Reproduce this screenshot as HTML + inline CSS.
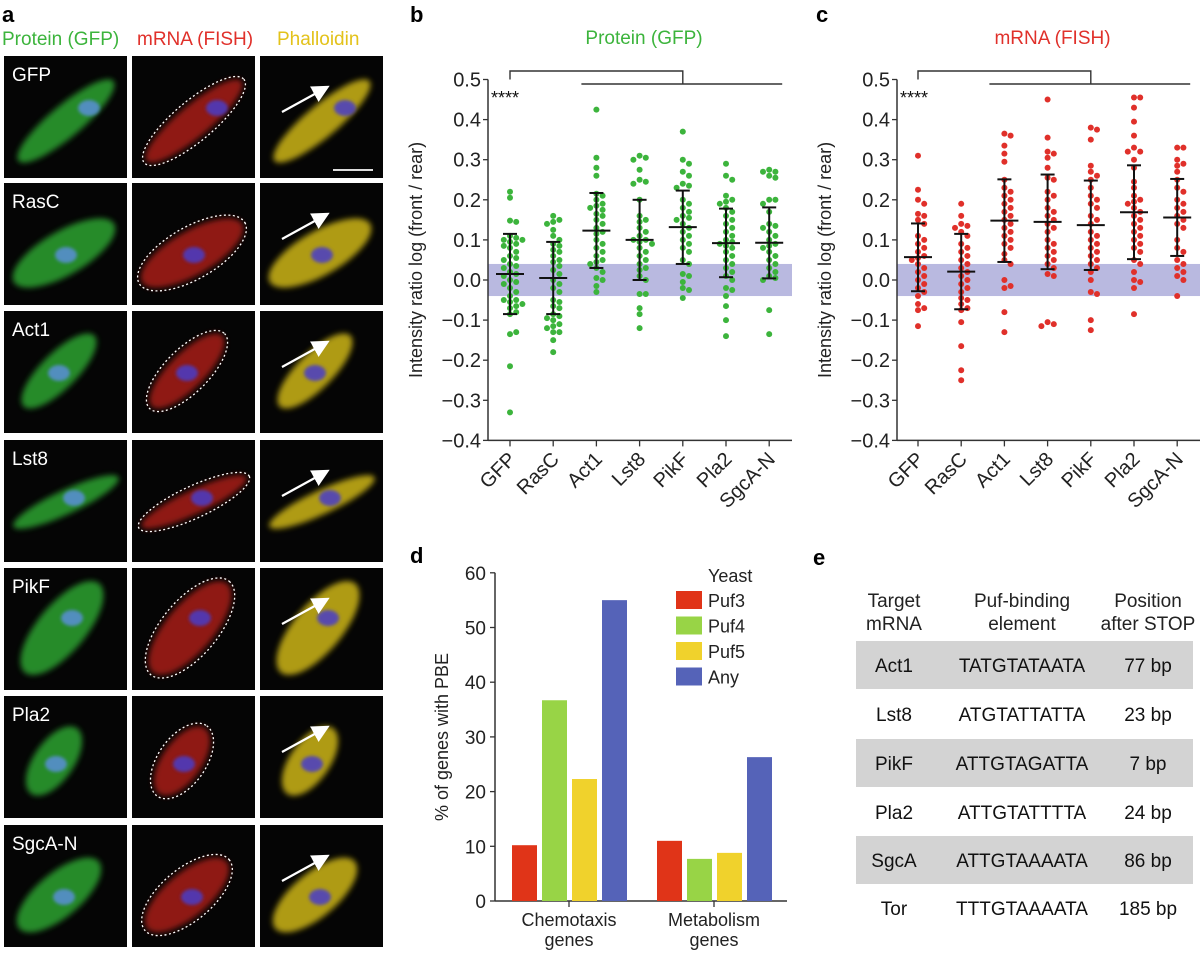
<!DOCTYPE html>
<html><head><meta charset="utf-8">
<style>
body{margin:0;background:#fff;}
svg text{font-family:"Liberation Sans",Arial,sans-serif;}
</style></head>
<body>
<svg id="fig" width="1200" height="953" viewBox="0 0 1200 953" xmlns="http://www.w3.org/2000/svg">
<defs>
<filter id="blur2" x="-30%" y="-30%" width="160%" height="160%"><feGaussianBlur stdDeviation="3"/></filter>
<filter id="blur1" x="-30%" y="-30%" width="160%" height="160%"><feGaussianBlur stdDeviation="1.5"/></filter>
<marker id="ah" markerWidth="8" markerHeight="8" refX="4" refY="4" orient="auto"><path d="M0,0 L8,4 L0,8 Z" fill="#fff"/></marker>
</defs>
<g id="panelA">
<text x="2" y="22" font-size="22" font-weight="bold">a</text>
<text x="2" y="45" font-size="19" fill="#3cb43c">Protein (GFP)</text>
<text x="137" y="45" font-size="19" fill="#e0302a">mRNA (FISH)</text>
<text x="277" y="45" font-size="19" fill="#e3c21a">Phalloidin</text>
</g>
<g id="panelB"></g>
<g id="panelC"></g>
<g id="panelD"></g>
<g id="panelE"></g>
</svg>
<script>
const NS="http://www.w3.org/2000/svg";
function mk(parent,tag,attrs,text){const e=document.createElementNS(NS,tag);for(const k in attrs)e.setAttribute(k,attrs[k]);if(text!==undefined)e.textContent=text;parent.appendChild(e);return e;}

// ---------- Panel a (micrographs) ----------
const rowNames=["GFP","RasC","Act1","Lst8","PikF","Pla2","SgcA-N"];
const rowY=[56,183,311,440,568,696,825];
const colX=[4,132,260];
const cellShapes=[[62,65,62,16,-40,85,52],[60,70,58,22,-30,62,72],[55,60,50,18,-45,55,62],[62,62,58,12,-25,70,58],[58,60,58,24,-50,68,50],[50,65,40,20,-55,52,68],[55,70,52,22,-40,60,72]];
const chCol=["#2b9a2e","#9e1d18","#c2ac16"];
const A=document.getElementById('panelA');
rowNames.forEach((nm,r)=>{
  colX.forEach((cx,c)=>{
    const g=mk(A,'g',{transform:`translate(${cx},${rowY[r]})`});
    
    
    mk(g,'rect',{x:0,y:0,width:123,height:122,fill:'#050505'});
    const s=cellShapes[r];
    mk(g,'ellipse',{cx:s[0],cy:s[1],rx:s[2],ry:s[3],transform:`rotate(${s[4]} ${s[0]} ${s[1]})`,fill:chCol[c],filter:'url(#blur2)',opacity:0.9});
    mk(g,'ellipse',{cx:s[5],cy:s[6],rx:11,ry:8,fill:c===0?'#5a8fd8':'#4a3cc8',filter:'url(#blur1)',opacity:0.85});
    if(c===1) mk(g,'ellipse',{cx:s[0],cy:s[1],rx:s[2]+3,ry:s[3]+4,transform:`rotate(${s[4]} ${s[0]} ${s[1]})`,fill:'none',stroke:'#fff','stroke-width':1.3,'stroke-dasharray':'2 2.5'});
    if(c===2){mk(g,'line',{x1:22,y1:56,x2:62,y2:34,stroke:'#fff','stroke-width':2.2,'marker-end':'url(#ah)'});
      if(r===0) mk(g,'line',{x1:73,y1:114,x2:113,y2:114,stroke:'#ddd','stroke-width':2});}
    if(c===0){const t=mk(g,'text',{x:8,y:25,'font-size':19,fill:'#fff'},nm);
      
      }
  });
});

// ---------- Panels b & c (dot plots) ----------
const categories=["GFP","RasC","Act1","Lst8","PikF","Pla2","SgcA-N"];
const yTicks=[0.5,0.4,0.3,0.2,0.1,0.0,-0.1,-0.2,-0.3,-0.4];
const yTickLabels=["0.5","0.4","0.3","0.2","0.1","0.0","\u22120.1","\u22120.2","\u22120.3","\u22120.4"];
const protMeans=[0.015,0.005,0.123,0.1,0.132,0.092,0.093];
const protLow=[-0.085,-0.085,0.03,0.0,0.04,0.007,0.004];
const protHigh=[0.115,0.095,0.217,0.2,0.223,0.178,0.181];
const protGFP=[0.22,0.205,0.148,0.145,0.11,0.105,0.1,0.1,0.095,0.09,0.085,0.08,0.07,0.06,0.055,0.05,0.04,0.035,0.03,0.02,0.015,0.01,0.0,-0.005,-0.01,-0.02,-0.03,-0.04,-0.05,-0.05,-0.055,-0.06,-0.065,-0.07,-0.08,-0.085,-0.135,-0.13,-0.215,-0.33];
const protRasC=[0.16,0.15,0.145,0.14,0.125,0.11,0.1,0.09,0.085,0.075,0.07,0.06,0.05,0.045,0.035,0.025,0.015,0.0,-0.01,-0.02,-0.03,-0.05,-0.055,-0.065,-0.07,-0.085,-0.09,-0.095,-0.1,-0.11,-0.115,-0.12,-0.13,-0.13,-0.15,-0.18];
const protAct1=[0.425,0.305,0.28,0.26,0.215,0.21,0.2,0.19,0.185,0.18,0.175,0.165,0.16,0.15,0.14,0.13,0.12,0.115,0.1,0.09,0.08,0.07,0.06,0.05,0.045,0.04,0.03,0.02,0.005,0.0,-0.015,-0.03];
const protLst8=[0.31,0.305,0.3,0.275,0.25,0.245,0.24,0.2,0.16,0.15,0.145,0.13,0.12,0.11,0.1,0.1,0.095,0.09,0.08,0.07,0.06,0.05,0.04,0.03,0.025,0.01,0.0,-0.035,-0.035,-0.07,-0.085,-0.12];
const protPikF=[0.37,0.3,0.29,0.27,0.26,0.24,0.235,0.23,0.2,0.19,0.18,0.17,0.16,0.155,0.15,0.14,0.13,0.12,0.11,0.1,0.09,0.08,0.07,0.05,0.04,0.015,0.01,-0.005,-0.02,-0.025,-0.045];
const protPla2=[0.29,0.26,0.25,0.21,0.2,0.195,0.19,0.18,0.17,0.16,0.15,0.14,0.13,0.12,0.11,0.1,0.095,0.09,0.085,0.08,0.07,0.06,0.05,0.04,0.03,0.02,0.01,0.0,-0.02,-0.025,-0.04,-0.065,-0.1,-0.14];
const protSgcA=[0.275,0.27,0.27,0.26,0.255,0.2,0.2,0.19,0.17,0.14,0.135,0.13,0.12,0.11,0.1,0.09,0.085,0.08,0.07,0.06,0.05,0.04,0.03,0.02,0.01,0.005,0.0,-0.075,-0.135];
const rnaMeans=[0.057,0.021,0.148,0.145,0.137,0.169,0.156];
const rnaLow=[-0.028,-0.073,0.045,0.027,0.025,0.052,0.06];
const rnaHigh=[0.141,0.115,0.251,0.263,0.248,0.286,0.252];
const rnaGFP=[0.31,0.225,0.2,0.19,0.165,0.16,0.15,0.14,0.11,0.1,0.09,0.08,0.07,0.06,0.055,0.05,0.04,0.03,0.02,0.01,0.0,-0.01,-0.02,-0.03,-0.04,-0.06,-0.07,-0.075,-0.115];
const rnaRasC=[0.19,0.16,0.14,0.135,0.13,0.12,0.11,0.09,0.08,0.07,0.06,0.05,0.04,0.03,0.02,0.01,0.0,-0.01,-0.02,-0.03,-0.045,-0.05,-0.06,-0.07,-0.075,-0.105,-0.165,-0.225,-0.25];
const rnaAct1=[0.365,0.36,0.335,0.315,0.295,0.25,0.23,0.22,0.21,0.2,0.19,0.18,0.17,0.16,0.15,0.14,0.13,0.12,0.11,0.1,0.09,0.08,0.065,0.05,0.04,0.0,-0.02,-0.015,-0.08,-0.13];
const rnaLst8=[0.45,0.355,0.32,0.315,0.305,0.28,0.255,0.25,0.22,0.21,0.2,0.18,0.17,0.16,0.15,0.14,0.13,0.12,0.1,0.09,0.08,0.07,0.06,0.05,0.04,0.03,0.015,0.01,-0.105,-0.11,-0.115];
const rnaPikF=[0.38,0.375,0.35,0.285,0.27,0.26,0.25,0.23,0.21,0.2,0.19,0.18,0.16,0.15,0.14,0.12,0.11,0.1,0.09,0.08,0.07,0.06,0.05,0.04,0.03,0.02,0.0,-0.03,-0.035,-0.1,-0.125];
const rnaPla2=[0.455,0.455,0.43,0.395,0.36,0.33,0.32,0.32,0.3,0.28,0.245,0.23,0.21,0.2,0.195,0.19,0.18,0.17,0.16,0.15,0.14,0.13,0.12,0.11,0.1,0.09,0.08,0.07,0.05,0.04,0.02,0.0,-0.005,-0.02,-0.085];
const rnaSgcA=[0.33,0.33,0.3,0.29,0.285,0.27,0.25,0.23,0.22,0.2,0.19,0.18,0.17,0.16,0.15,0.14,0.13,0.1,0.08,0.07,0.05,0.04,0.03,0.02,0.01,0.0,-0.04];

function dotPlot(G,prefix,axisX,xEnd,firstCat,title,color,series,means,lows,highs){
  const yS=v=>280-(v*401);
  const xS=i=>firstCat+i*43.2;
  const t=mk(G,'text',{x:(axisX+xEnd)/2+4,y:44,'font-size':19,fill:color,'text-anchor':'middle'},title);
  
  
  const band=mk(G,'rect',{x:axisX,y:yS(0.04),width:xEnd-axisX,height:yS(-0.04)-yS(0.04),fill:'#b9b9e0'});
  
  
  mk(G,'line',{x1:axisX,y1:yS(0.5),x2:axisX,y2:yS(-0.4),stroke:'#333','stroke-width':1.5});
  mk(G,'line',{x1:axisX,y1:yS(-0.4),x2:xEnd,y2:yS(-0.4),stroke:'#333','stroke-width':1.5});
  yTicks.forEach((v,i)=>{
    mk(G,'line',{x1:axisX-5,y1:yS(v),x2:axisX,y2:yS(v),stroke:'#333','stroke-width':1.3});
    const tl=mk(G,'text',{x:axisX-7,y:yS(v)+7,'font-size':20,'text-anchor':'end',fill:'#222'},yTickLabels[i]);
    
    
  });
  const yt=mk(G,'text',{x:0,y:0,'font-size':18,'text-anchor':'middle',fill:'#222',transform:`translate(${axisX-66},${yS(0.05)}) rotate(-90)`},'Intensity ratio log (front / rear)');
  
  
  categories.forEach((c,i)=>{
    const x=xS(i);
    mk(G,'line',{x1:x,y1:yS(-0.4),x2:x,y2:yS(-0.4)+6,stroke:'#333','stroke-width':1.3});
    const xl=mk(G,'text',{x:0,y:0,'font-size':20,'text-anchor':'end',fill:'#222',transform:`translate(${x+7},${yS(-0.4)+20}) rotate(-45)`},c);
    
    
    // beeswarm: place each point at the smallest offset without overlap
    const placed=[];
    series[i].forEach(v=>{
      const py=yS(v);let off=0;
      for(let k=0;k<30;k++){
        const cand=(k===0?0:(k%2?1:-1)*Math.ceil(k/2)*6.2);
        if(!placed.some(p=>Math.hypot(p[0]-cand,p[1]-py)<6)){off=cand;break;}
      }
      placed.push([off,py]);
      const d=mk(G,'circle',{cx:x+off,cy:py,r:3,fill:color});
      
      
    });
  });
  categories.forEach((c,i)=>{
    const x=xS(i);
    const eb=mk(G,'g',{stroke:'#111','stroke-width':2});
    
    
    mk(eb,'line',{x1:x,y1:yS(lows[i]),x2:x,y2:yS(highs[i])});
    mk(eb,'line',{x1:x-7,y1:yS(lows[i]),x2:x+7,y2:yS(lows[i])});
    mk(eb,'line',{x1:x-7,y1:yS(highs[i]),x2:x+7,y2:yS(highs[i])});
    mk(eb,'line',{x1:x-14,y1:yS(means[i]),x2:x+14,y2:yS(means[i])});
  });
  const br=mk(G,'g',{stroke:'#333','stroke-width':1.4,fill:'none'});
  
  
  mk(br,'polyline',{points:`${xS(0)},${yS(0.5)} ${xS(0)},71 ${xS(4)},71 ${xS(4)},84`});
  mk(br,'line',{x1:xS(2)-15,y1:84,x2:xS(6)+13,y2:84});
  const st=mk(G,'text',{x:axisX+3,y:104,'font-size':18,fill:'#111'},'****');
  
  
}
const B=document.getElementById('panelB');
mk(B,'text',{x:410,y:22,'font-size':22,'font-weight':'bold'},'b');
dotPlot(B,'protein',488,792,510,'Protein (GFP)','#3cb43c',[protGFP,protRasC,protAct1,protLst8,protPikF,protPla2,protSgcA],protMeans,protLow,protHigh);
const C=document.getElementById('panelC');
mk(C,'text',{x:816,y:22,'font-size':22,'font-weight':'bold'},'c');
dotPlot(C,'mrna',897,1200,918,'mRNA (FISH)','#e0302a',[rnaGFP,rnaRasC,rnaAct1,rnaLst8,rnaPikF,rnaPla2,rnaSgcA],rnaMeans,rnaLow,rnaHigh);

// ---------- Panel d (bar chart) ----------
const groups=["Chemotaxis","Metabolism"];
const seriesNames=["Puf3","Puf4","Puf5","Any"];
const seriesColors=["#e03418","#98d446","#f0d22c","#5563b8"];
const puf3Vals=[10.2,11.0];
const puf4Vals=[36.7,7.7];
const puf5Vals=[22.3,8.8];
const anyVals=[55.0,26.3];
const dTicks=[0,10,20,30,40,50,60];
const D=document.getElementById('panelD');
mk(D,'text',{x:410,y:563,'font-size':22,'font-weight':'bold'},'d');
const dY=v=>901-v*5.47;
const dX0=[512,657];
mk(D,'line',{x1:495,y1:dY(60),x2:495,y2:dY(0),stroke:'#333','stroke-width':1.5});
mk(D,'line',{x1:495,y1:dY(0),x2:787,y2:dY(0),stroke:'#333','stroke-width':1.5});
dTicks.forEach(v=>{
  mk(D,'line',{x1:490,y1:dY(v),x2:495,y2:dY(v),stroke:'#333','stroke-width':1.3});
  const t=mk(D,'text',{x:486,y:dY(v)+7,'font-size':19,'text-anchor':'end',fill:'#222'},String(v));
  
  
});
const dyt=mk(D,'text',{x:0,y:0,'font-size':18,'text-anchor':'middle',fill:'#222',transform:'translate(448,737) rotate(-90)'},'% of genes with PBE');


[puf3Vals,puf4Vals,puf5Vals,anyVals].forEach((vals,s)=>{
  vals.forEach((v,g)=>{
    const r=mk(D,'rect',{x:dX0[g]+s*30,y:dY(v),width:25,height:dY(0)-dY(v),fill:seriesColors[s]});
    
    
  });
});
groups.forEach((g,i)=>{
  const cx=dX0[i]+57;
  mk(D,'line',{x1:cx,y1:dY(0),x2:cx,y2:dY(0)+6,stroke:'#333','stroke-width':1.3});
  const t=mk(D,'text',{x:cx,y:926,'font-size':18,'text-anchor':'middle',fill:'#222'},g);
  
  
  mk(D,'text',{x:cx,y:946,'font-size':18,'text-anchor':'middle',fill:'#222'},'genes');
});
const lg=mk(D,'g',{});


mk(lg,'text',{x:708,y:582,'font-size':18,fill:'#222'},'Yeast');
seriesNames.forEach((n,i)=>{
  const e=mk(lg,'g',{});
  
  
  mk(e,'rect',{x:676,y:591+i*25.5,width:26,height:18,fill:seriesColors[i]});
  mk(e,'text',{x:708,y:607+i*25.5,'font-size':18,fill:'#222'},n);
});

// ---------- Panel e (table) ----------
const tgt=["Act1","Lst8","PikF","Pla2","SgcA","Tor"];
const pbe=["TATGTATAATA","ATGTATTATTA","ATTGTAGATTA","ATTGTATTTTA","ATTGTAAAATA","TTTGTAAAATA"];
const pos=["77 bp","23 bp","7 bp","24 bp","86 bp","185 bp"];
const E=document.getElementById('panelE');
mk(E,'text',{x:813,y:565,'font-size':22,'font-weight':'bold'},'e');
const cols=[894,1022,1148];
[["Target","mRNA"],["Puf-binding","element"],["Position","after STOP"]].forEach((h,i)=>{
  const t=mk(E,'text',{x:cols[i],y:607,'font-size':19,'text-anchor':'middle',fill:'#222'},h[0]);
  
  
  mk(E,'text',{x:cols[i],y:630,'font-size':19,'text-anchor':'middle',fill:'#222'},h[1]);
});
const rowCy=[665,714,763,812,860,908];
tgt.forEach((t,i)=>{
  const g=mk(E,'g',{});
  
  
  if(i%2===0) mk(g,'rect',{x:856,y:rowCy[i]-24,width:337,height:48,fill:'#d3d3d3'});
  [t,pbe[i],pos[i]].forEach((s,j)=>mk(g,'text',{x:cols[j],y:rowCy[i]+7,'font-size':19,'text-anchor':'middle',fill:'#111'},s));
});
</script>
</body></html>
